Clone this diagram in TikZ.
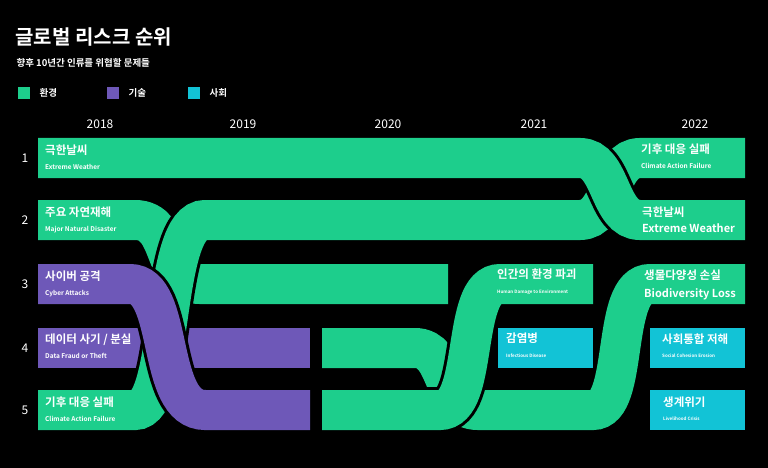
\documentclass[tikz,border=0pt]{standalone}
\usepackage{fontspec}
\setmainfont{Noto Sans CJK KR}[BoldFont={Noto Sans CJK KR Bold}]
\definecolor{env}{HTML}{1DCE8C}
\definecolor{tech}{HTML}{6E58B8}
\definecolor{soc}{HTML}{12C3D6}
\begin{document}
\begin{tikzpicture}[x=1pt,y=-1pt,
  flow/.style={line width=40pt,preaction={draw=black,line width=46pt}},
  kr/.style={anchor=north west,inner sep=0pt,text=white,font=\bfseries\fontsize{11.5}{12}\selectfont},
  en/.style={anchor=north west,inner sep=0pt,text=white,font=\bfseries\fontsize{6.5}{7}\selectfont},
  enbig/.style={anchor=north west,inner sep=0pt,text=white,font=\bfseries\fontsize{11}{11}\selectfont},
  yr/.style={text=white,font=\fontsize{12}{13}\selectfont},
  rk/.style={text=white,font=\fontsize{12}{13}\selectfont},
  box/.style={minimum width=95pt,minimum height=40pt,inner sep=0pt,anchor=north west}]
\fill[black] (0,0) rectangle (768,468);
\useasboundingbox (0,0) rectangle (768,468);
% title
\node[anchor=west,text=white,font=\bfseries\fontsize{20}{21}\selectfont] (title) at (12,37) {글로벌 리스크 순위};
\node[anchor=west,text=white,font=\bfseries\fontsize{9.5}{10}\selectfont] (sub) at (13,63) {향후 10년간 인류를 위협할 문제들};
\fill[env] (18,87) rectangle (30,99); \node[anchor=west,text=white,font=\bfseries\fontsize{9.5}{10}\selectfont] (l1) at (36,93) {환경};
\fill[tech] (107,87) rectangle (119,99); \node[anchor=west,text=white,font=\bfseries\fontsize{9.5}{10}\selectfont] (l2) at (125,93) {기술};
\fill[soc] (188,87) rectangle (200,99); \node[anchor=west,text=white,font=\bfseries\fontsize{9.5}{10}\selectfont] (l3) at (206,93) {사회};
% years
\node[yr] (y1) at (100,124) {2018};
\node[yr] (y2) at (243,124) {2019};
\node[yr] (y3) at (388,124) {2020};
\node[yr] (y4) at (534,124) {2021};
\node[yr] (y5) at (695,124) {2022};
% ranks
\node[rk] (r1) at (25,158) {1};
\node[rk] (r2) at (25,220) {2};
\node[rk] (r3) at (25,284) {3};
\node[rk] (r4) at (25,348) {4};
\node[rk] (r5) at (25,410) {5};
% flows
\draw[flow,tech] (38,348) -- (310,348);
\draw[flow,env] (38,220) -- (135,220) .. controls (175,220) and (160,284) .. (200,284) -- (448,284);
\draw[flow,env] (38,410) -- (135,410) .. controls (175,410) and (160,220) .. (205,220) -- (580,220) .. controls (612,220) and (608,158) .. (640,158) -- (745,158);
\draw[flow,tech] (38,284) -- (130,284) .. controls (175,284) and (155,410) .. (205,410) -- (310,410);
\draw[flow,env] (38,158) -- (580,158) .. controls (612,158) and (608,220) .. (640,220) -- (745,220);
\draw[flow,env] (322,348) -- (415,348) .. controls (450,348) and (440,410) .. (478,410) -- (593,410) .. controls (630,410) and (610,284) .. (650,284) -- (745,284);
\draw[flow,env] (322,410) -- (440,410) .. controls (480,410) and (460,284) .. (500,284) -- (593,284);
% boxes
\node[box,fill=soc] (b1) at (498,328) {};
\node[box,fill=soc] (b2) at (650,328) {};
\node[box,fill=soc] (b3) at (650,390) {};
% labels 2018
\node[kr] (a1) at (45,145) {극한날씨}; \node[en] (a1e) at (45,164) {Extreme Weather};
\node[kr] (a2) at (45,207) {주요 자연재해}; \node[en] (a2e) at (45,226) {Major Natural Disaster};
\node[kr] (a3) at (45,271) {사이버 공격}; \node[en] (a3e) at (45,290) {Cyber Attacks};
\node[kr] (a4) at (45,334) {데이터 사기 / 분실}; \node[en] (a4e) at (45,353) {Data Fraud or Theft};
\node[kr] (a5) at (45,397) {기후 대응 실패}; \node[en] (a5e) at (45,416) {Climate Action Failure};
% 2021
\node[kr] (c3) at (497,269) {인간의 환경 파괴}; \node[en,font=\bfseries\fontsize{4.5}{5}\selectfont] (c3e) at (497,290) {Human Damage to Environment};
\node[kr] (c4) at (506,333) {감염병}; \node[en,font=\bfseries\fontsize{4.5}{5}\selectfont] (c4e) at (506,354) {Infectious Disease};
% 2022
\node[kr] (d1) at (641,144) {기후 대응 실패}; \node[en] (d1e) at (641,163) {Climate Action Failure};
\node[kr] (d2) at (642,207) {극한날씨}; \node[enbig] (d2e) at (642,224) {Extreme Weather};
\node[kr] (d3) at (644,270) {생물다양성 손실}; \node[enbig] (d3e) at (644,288) {Biodiversity Loss};
\node[kr] (d4) at (662,334) {사회통합 저해}; \node[en,font=\bfseries\fontsize{4.5}{5}\selectfont] (d4e) at (662,354) {Social Cohesion Erosion};
\node[kr] (d5) at (663,397) {생계위기}; \node[en,font=\bfseries\fontsize{4.5}{5}\selectfont] (d5e) at (663,417) {Livelihood Crisis};
\end{tikzpicture}
\end{document}
